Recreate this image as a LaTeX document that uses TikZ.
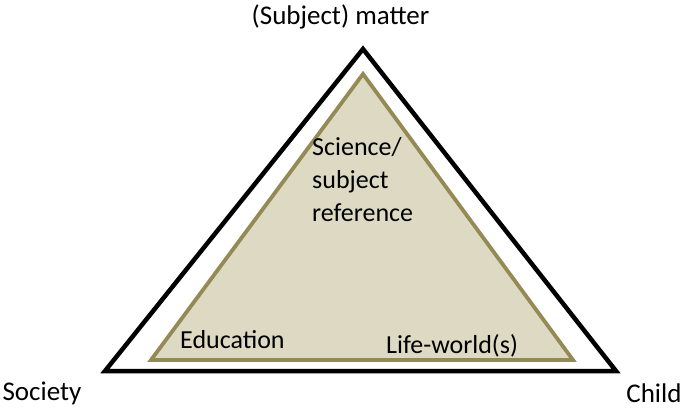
\documentclass[tikz,border=0pt]{standalone}
\usepackage{fontspec}
\setmainfont{Carlito}
\definecolor{olive}{HTML}{948A54}
\definecolor{tanfill}{HTML}{DDD9C3}
\tikzset{
  outertri/.style={draw=black, line width=4.5pt, line join=miter, fill=white},
  innertri/.style={draw=olive, line width=3.8pt, line join=miter, fill=tanfill},
  outerlabel/.style={inner sep=0pt, anchor=base, font=\fontsize{27}{32}\selectfont, text=black},
  innerlabel/.style={inner sep=0pt, anchor=base west, font=\fontsize{26}{32}\selectfont, text=black, align=left}
}
\begin{document}
\begin{tikzpicture}[x=1pt, y=-1pt]
\useasboundingbox (0,0) rectangle (685,409);
\coordinate (oa) at (363,49);
\coordinate (ol) at (105,371);
\coordinate (or) at (616,371);
\coordinate (ia) at (363,74);
\coordinate (il) at (151,360);
\coordinate (ir) at (573,360);
\draw[outertri] (oa) -- (ol) -- (or) -- cycle;
\draw[innertri] (ia) -- (il) -- (ir) -- cycle;
\node[outerlabel] (subj) at (340.5,25) {(Subject) matter};
\node[outerlabel] (soc) at (42,400) {Society};
\node[outerlabel] (child) at (654,402) {Child};
\node[innerlabel] (sci1) at (312,155) {Science/};
\node[innerlabel] (sci2) at (312,188) {subject};
\node[innerlabel] (sci3) at (312,221) {reference};
\node[innerlabel] (edu) at (180,348) {Education};
\node[innerlabel] (life) at (386,353) {Life-world(s)};
\end{tikzpicture}
\end{document}
